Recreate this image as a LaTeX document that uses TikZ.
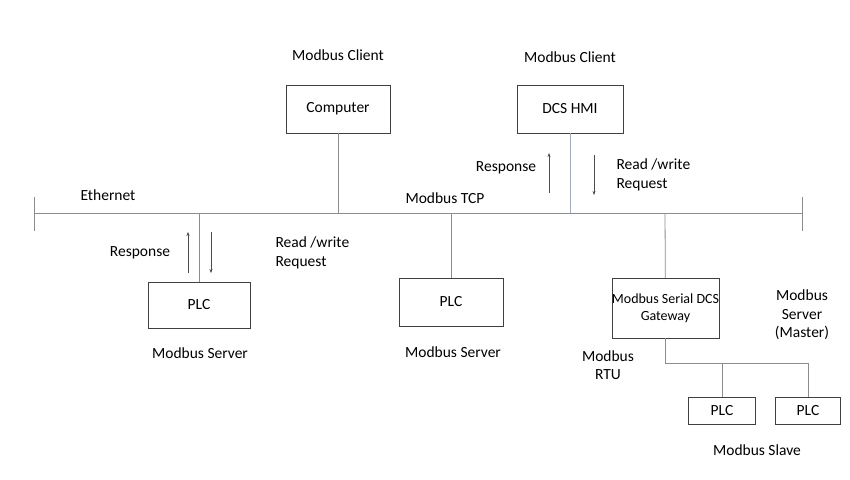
\documentclass[tikz,border=0pt]{standalone}
\usepackage{fontspec}
\setmainfont{Carlito}
\usetikzlibrary{arrows.meta}
\definecolor{hmiblue}{RGB}{150,175,200}
\tikzset{
box/.style={draw=black!75, thick, minimum width=#1, inner sep=0pt},
lbl/.style={font=\fontsize{15.5}{18.5}\selectfont, align=center},
wire/.style={draw=black!45, thick},
>={Stealth[length=4pt,width=3pt]}}
\begin{document}
\begin{tikzpicture}[x=1pt,y=-1pt]
    \useasboundingbox (0,0) rectangle (850,479);

                % ethernet bus
                \coordinate (E1) at (34,213);
                \coordinate (E2) at (802,213);
                \draw[wire] (E1) -- (E2);
                \draw[wire] (34,197) -- (34,231);
                \draw[wire] (802,197) -- (802,231);
                \node[lbl] (eth) at (108,195) {Ethernet};
                \node[lbl] (tcp) at (445,198) {Modbus TCP};

                % clients
                \node[box=104pt, minimum height=48pt, lbl] (comp) at (338,109) {Computer};
                \node[box=106pt, minimum height=48pt, lbl] (hmi) at (570,109) {DCS HMI};
                \node[lbl] (cl1) at (338,55) {Modbus Client};
                \node[lbl] (cl2) at (570,57) {Modbus Client};
                \coordinate (tc) at (338,213);
                \coordinate (th) at (570,213);
                \draw[wire] (comp) -- (tc);
                \draw[wire, draw=hmiblue] (hmi) -- (th);
                \draw[->, black!70] (549,193) -- (549,153);
                \draw[->, black!70] (594,155) -- (594,195);
                \node[lbl] (rsp2) at (506,168) {Response};
                \node[lbl, align=left, anchor=west] (rq2) at (613,175) {Read /write\\Request};

                % servers
                \node[box=102pt, minimum height=46pt, lbl] (plc1) at (199,305) {PLC};
                \node[box=104pt, minimum height=48pt, lbl] (plc2) at (451,302) {PLC};
                \node[box=107pt, minimum height=60pt, lbl, font=\fontsize{14}{17}\selectfont] (gw) at (665.5,308) {Modbus Serial DCS\\Gateway};
                \coordinate (t1) at (199,213);
                \coordinate (t2) at (451,213);
                \coordinate (t3) at (665,213);
                \draw[wire] (t1) -- (plc1);
                \draw[wire] (t2) -- (plc2);
                \draw[wire] (t3) -- (gw);
                \draw[->, black!70] (188,273) -- (188,232);
                \draw[->, black!70] (211,232) -- (211,273);
                \node[lbl] (rsp1) at (140,253) {Response};
                \node[lbl, align=left, anchor=west] (rq1) at (272,253) {Read /write\\Request};
                \node[lbl] (sv1) at (200,353) {Modbus Server};
                \node[lbl] (sv2) at (453,352) {Modbus Server};
                \node[lbl] (mst) at (802,315) {Modbus\\Server\\(Master)};
                \node[lbl] (rtu) at (608,365) {Modbus\\RTU};

                % serial slaves
                \node[box=67pt, minimum height=27pt, lbl] (s1) at (722,411) {PLC};
                \node[box=65pt, minimum height=27pt, lbl] (s2) at (808,411) {PLC};
                \draw[wire] (gw.south) |- (s2.north |- 0,363) -- (s2.north);
                \draw[wire] (s1.north |- 0,363) -- (s1.north);
                \node[lbl] (slv) at (757,450) {Modbus Slave};

\end{tikzpicture}
\end{document}
